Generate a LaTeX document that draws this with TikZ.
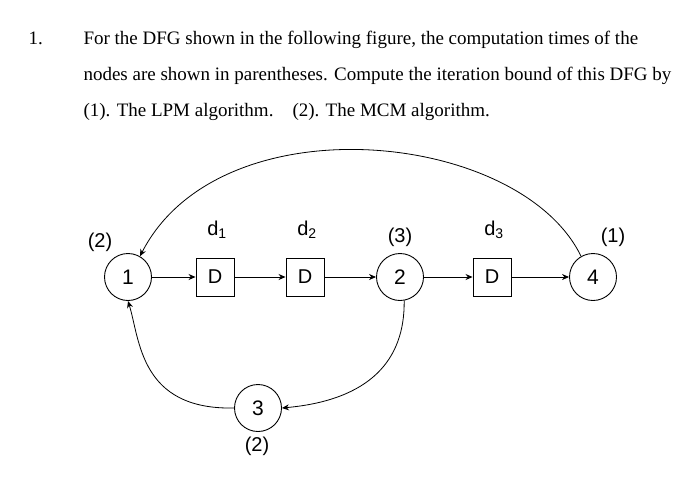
\documentclass[tikz,border=0pt]{standalone}
\usepackage{fontspec}
\setmainfont{Liberation Serif}
\newfontfamily\hv{Liberation Sans}
\usetikzlibrary{arrows.meta}
\begin{document}
\begin{tikzpicture}[x=1pt,y=-1pt,
  cn/.style={circle,draw,line width=0.9pt,minimum size=47pt,inner sep=0pt,font=\hv\fontsize{21}{21}\selectfont},
  dbox/.style={rectangle,draw,line width=0.9pt,minimum size=38pt,inner sep=0pt,font=\hv\fontsize{20}{20}\selectfont},
  lb/.style={font=\hv\fontsize{20}{20}\selectfont},
  tx/.style={anchor=base west,font=\fontsize{19}{20}\selectfont},
  ar/.style={-{Stealth[length=7pt,width=6pt]},line width=0.8pt}]
\useasboundingbox (0,0) rectangle (700,477);
\node[tx] (n) at (25,44) {1.};
\node[tx] (l1) at (80,44) {For the DFG shown in the following figure, the computation times of the};
\node[tx] (l2) at (80,80) {nodes are shown in parentheses. Compute the iteration bound of this DFG by};
\node[tx] (l3) at (80,116) {(1). The LPM algorithm.\quad (2). The MCM algorithm.};
\node[cn] (c1) at (128,277) {1};
\node[dbox] (d1) at (215,277) {D};
\node[dbox] (d2) at (305,277) {D};
\node[cn] (c2) at (400,277) {2};
\node[dbox] (d3) at (492,277) {D};
\node[cn] (c4) at (593,277) {4};
\node[cn] (c3) at (258,408) {3};
\node[lb] (t1) at (217,230) {d\textsubscript{1}};
\node[lb] (t2) at (307,230) {d\textsubscript{2}};
\node[lb] (t3) at (494,230) {d\textsubscript{3}};
\node[lb] (p2) at (400,237) {(3)};
\node[lb] (p4) at (613,237) {(1)};
\node[lb] (p1) at (100,242) {(2)};
\node[lb] (p3) at (257,446) {(2)};
\draw[ar] (c1) -- (d1);
\draw[ar] (d1) -- (d2);
\draw[ar] (d2) -- (c2);
\draw[ar] (c2) -- (d3);
\draw[ar] (d3) -- (c4);
\draw[ar] (c4.120) .. controls (520,130) and (220,100) .. (c1.60);
\draw[ar] (c2.-80) .. controls (405,360) and (370,400) .. (c3.east);
\draw[ar] (c3.west) .. controls (140,410) and (140,340) .. (c1.south);
\end{tikzpicture}
\end{document}
